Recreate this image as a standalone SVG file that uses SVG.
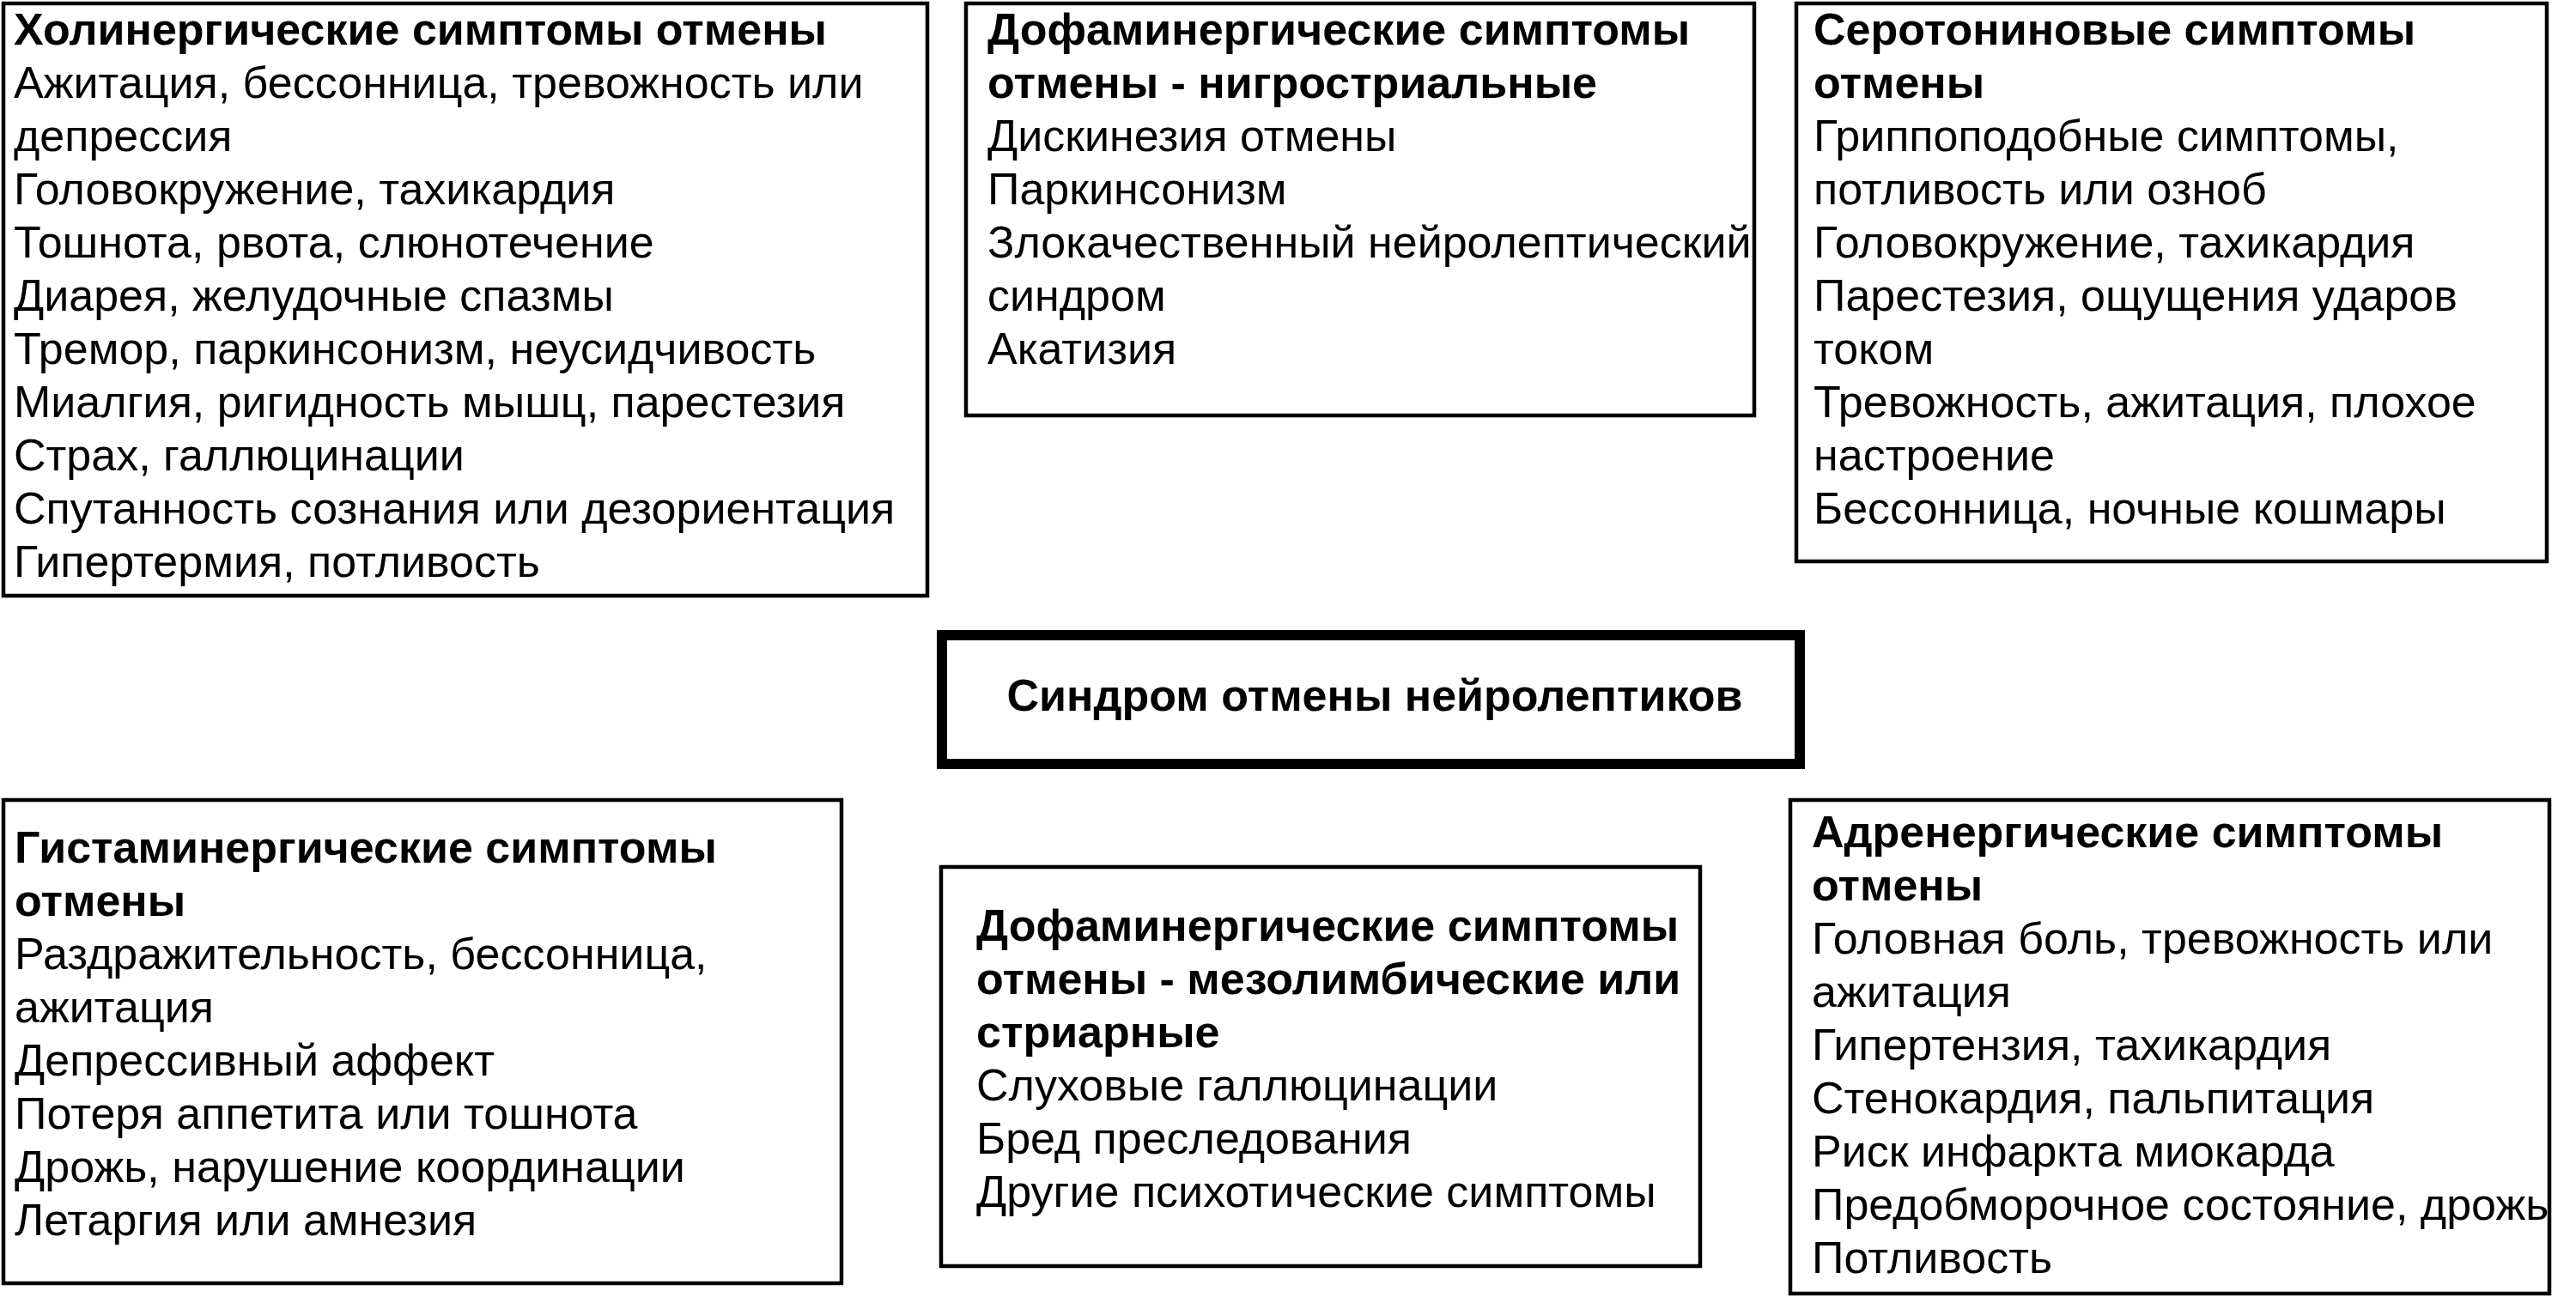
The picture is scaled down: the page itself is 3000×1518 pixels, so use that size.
<svg xmlns="http://www.w3.org/2000/svg" width="3000" height="1518" viewBox="0 0 3000 1518">
<style>
  .box { fill: #ffffff; stroke: #000000; stroke-width: 4.5; }
  .main { fill: #ffffff; stroke: #000000; stroke-width: 12; }
  text { font-family: "Liberation Sans", Arial, sans-serif; font-size: 52px; fill: #000000; }
  .b { font-weight: bold; }
</style>
<rect x="0" y="0" width="3000" height="1518" fill="#ffffff"/>
<g id="connectors"></g>
<g id="node-cholinergic">
  <rect class="box" x="4" y="4" width="1076" height="690"/>
  <text x="16" y="52" class="b">Холинергические симптомы отмены</text>
  <text x="16" y="114">Ажитация, бессонница, тревожность или</text>
  <text x="16" y="176">депрессия</text>
  <text x="16" y="238">Головокружение, тахикардия</text>
  <text x="16" y="300">Тошнота, рвота, слюнотечение</text>
  <text x="16" y="362">Диарея, желудочные спазмы</text>
  <text x="16" y="424">Тремор, паркинсонизм, неусидчивость</text>
  <text x="16" y="486">Миалгия, ригидность мышц, парестезия</text>
  <text x="16" y="548">Страх, галлюцинации</text>
  <text x="16" y="610">Спутанность сознания или дезориентация</text>
  <text x="16" y="672">Гипертермия, потливость</text>
</g>
<g id="node-dopamine-nigro">
  <rect class="box" x="1125" y="4" width="918" height="480"/>
  <text x="1150" y="52" class="b">Дофаминергические симптомы</text>
  <text x="1150" y="114" class="b">отмены - нигростриальные</text>
  <text x="1150" y="176">Дискинезия отмены</text>
  <text x="1150" y="238">Паркинсонизм</text>
  <text x="1150" y="300">Злокачественный нейролептический</text>
  <text x="1150" y="362">синдром</text>
  <text x="1150" y="424">Акатизия</text>
</g>
<g id="node-serotonin">
  <rect class="box" x="2092" y="4" width="874" height="650"/>
  <text x="2112" y="52" class="b">Серотониновые симптомы</text>
  <text x="2112" y="114" class="b">отмены</text>
  <text x="2112" y="176">Гриппоподобные симптомы,</text>
  <text x="2112" y="238">потливость или озноб</text>
  <text x="2112" y="300">Головокружение, тахикардия</text>
  <text x="2112" y="362">Парестезия, ощущения ударов</text>
  <text x="2112" y="424">током</text>
  <text x="2112" y="486">Тревожность, ажитация, плохое</text>
  <text x="2112" y="548">настроение</text>
  <text x="2112" y="610">Бессонница, ночные кошмары</text>
</g>
<g id="node-center">
  <rect class="main" x="1097" y="740" width="999" height="150"/>
  <text x="1601" y="828" class="b" text-anchor="middle">Синдром отмены нейролептиков</text>
</g>
<g id="node-histamine">
  <rect class="box" x="4" y="932" width="976" height="563"/>
  <text x="17" y="1005" class="b">Гистаминергические симптомы</text>
  <text x="17" y="1067" class="b">отмены</text>
  <text x="17" y="1129">Раздражительность, бессонница,</text>
  <text x="17" y="1191">ажитация</text>
  <text x="17" y="1253">Депрессивный аффект</text>
  <text x="17" y="1315">Потеря аппетита или тошнота</text>
  <text x="17" y="1377">Дрожь, нарушение координации</text>
  <text x="17" y="1439">Летаргия или амнезия</text>
</g>
<g id="node-dopamine-meso">
  <rect class="box" x="1096" y="1010" width="884" height="465"/>
  <text x="1137" y="1096" class="b">Дофаминергические симптомы</text>
  <text x="1137" y="1158" class="b">отмены - мезолимбические или</text>
  <text x="1137" y="1220" class="b">стриарные</text>
  <text x="1137" y="1282">Слуховые галлюцинации</text>
  <text x="1137" y="1344">Бред преследования</text>
  <text x="1137" y="1406">Другие психотические симптомы</text>
</g>
<g id="node-adrenergic">
  <rect class="box" x="2085" y="932" width="884" height="575"/>
  <text x="2110" y="987" class="b">Адренергические симптомы</text>
  <text x="2110" y="1049" class="b">отмены</text>
  <text x="2110" y="1111">Головная боль, тревожность или</text>
  <text x="2110" y="1173">ажитация</text>
  <text x="2110" y="1235">Гипертензия, тахикардия</text>
  <text x="2110" y="1297">Стенокардия, пальпитация</text>
  <text x="2110" y="1359">Риск инфаркта миокарда</text>
  <text x="2110" y="1421">Предобморочное состояние, дрожь</text>
  <text x="2110" y="1483">Потливость</text>
</g>
</svg>
